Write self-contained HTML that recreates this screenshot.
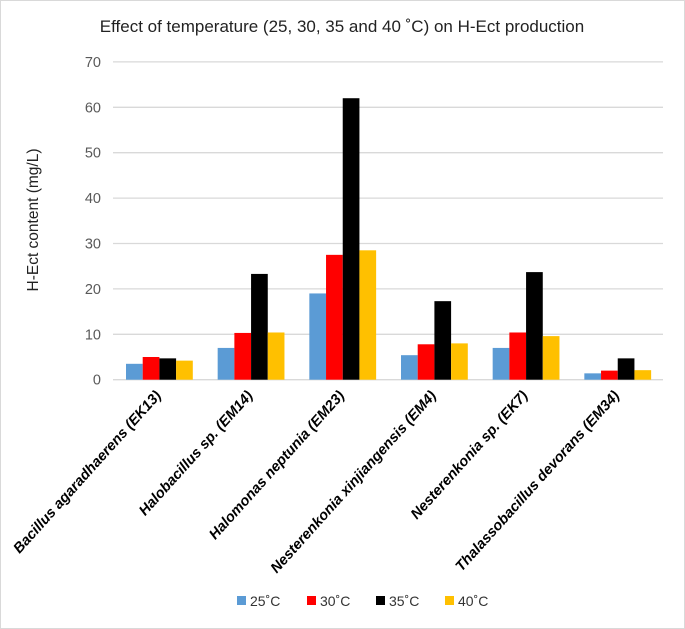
<!DOCTYPE html>
<html><head><meta charset="utf-8"><style>
html,body{margin:0;padding:0;background:#fff}
svg{display:block;font-family:"Liberation Sans",sans-serif}
</style></head><body>
<svg id="chart" width="685" height="629" viewBox="0 0 685 629">
<rect x="0.5" y="0.5" width="684" height="628" fill="#fff" stroke="#d9d9d9"/>
<text x="342" y="32" text-anchor="middle" font-size="17" fill="#222">Effect of temperature (25, 30, 35 and 40 ˚C) on H-Ect production</text>
<text transform="translate(38,220) rotate(-90)" text-anchor="middle" font-size="15.5" fill="#222">H-Ect content (mg/L)</text>
<g id="grid"></g><g id="bars"></g><g id="xlabels"></g><g id="legend"></g>
</svg>
<script>
const categories=["Bacillus agaradhaerens (EK13)","Halobacillus sp. (EM14)","Halomonas neptunia (EM23)","Nesterenkonia xinjiangensis (EM4)","Nesterenkonia sp. (EK7)","Thalassobacillus devorans (EM34)"];
const seriesNames=["25˚C","30˚C","35˚C","40˚C"];
const s25=[3.5,7,19,5.4,7,1.4];
const s30=[5,10.3,27.5,7.8,10.4,2];
const s35=[4.7,23.3,62,17.3,23.7,4.7];
const s40=[4.2,10.4,28.5,8,9.6,2.1];
const yTicks=[0,10,20,30,40,50,60,70];
const colors=["#5b9bd5","#ff0000","#000000","#ffc000"];
const series=[s25,s30,s35,s40];
const NS="http://www.w3.org/2000/svg";
const x0=113,x1=663,yB=379.7,pxPer=4.54;
const gw=(x1-x0)/categories.length;
const y=v=>yB-v*pxPer;
function mk(t,a,p){const e=document.createElementNS(NS,t);for(const k in a)e.setAttribute(k,a[k]);p.appendChild(e);return e;}
const grid=document.getElementById('grid');
yTicks.forEach(t=>{
  const l=mk('line',{x1:x0,x2:x1,y1:y(t),y2:y(t),stroke:'#d9d9d9','stroke-width':1.3},grid);
  
  
  const tx=mk('text',{x:x0-12,y:y(t)+5,'text-anchor':'end','font-size':14.5,fill:'#595959'},grid);
  tx.textContent=t;
  
  
});
const bars=document.getElementById('bars');
const bw=16.7;
categories.forEach((c,i)=>{
  series.forEach((s,j)=>{
    const bx=x0+i*gw+13+j*bw;
    const r=mk('rect',{x:bx,y:y(s[i]),width:bw,height:yB-y(s[i]),fill:colors[j]},bars);
    
    
  });
  const cx=x0+i*gw+gw/2+3;
  const t=mk('text',{transform:`translate(${cx},396) rotate(-48)`,'text-anchor':'end','font-size':14.5,'font-weight':'bold','font-style':'italic',fill:'#000'},document.getElementById('xlabels'));
  t.textContent=c;
  
  
});
const leg=document.getElementById('legend');
const lx=[237,307,376,445];
seriesNames.forEach((n,j)=>{
  const g=mk('g',{},leg);
  
  
  mk('rect',{x:lx[j],y:596,width:9,height:9,fill:colors[j]},g);
  const t=mk('text',{x:lx[j]+13,y:606,'font-size':14,fill:'#333'},g);
  t.textContent=n;
});
</script>
</body></html>
